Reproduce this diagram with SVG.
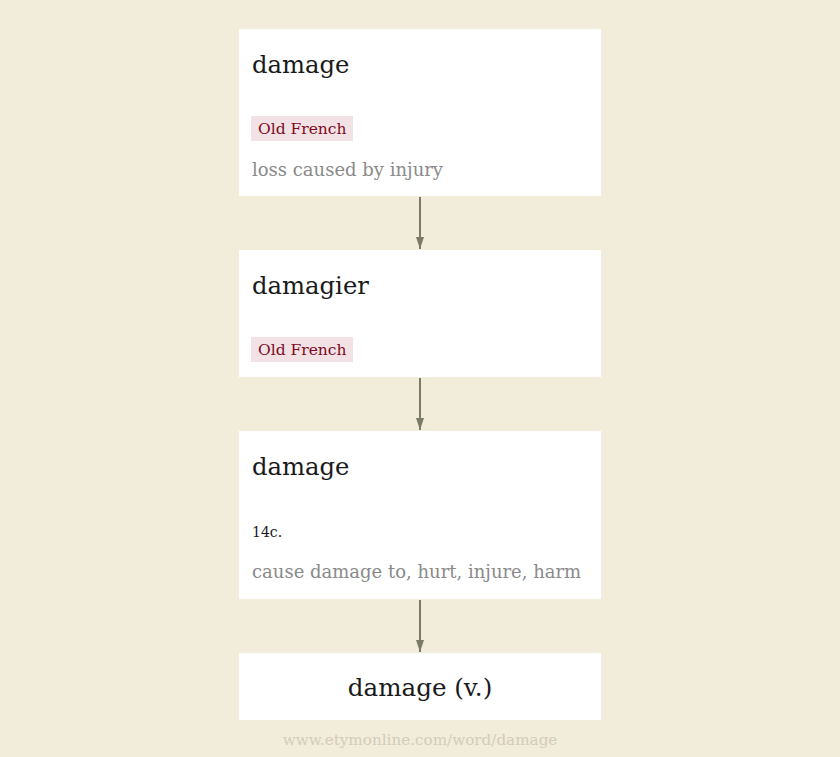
<svg xmlns="http://www.w3.org/2000/svg" width="840" height="757" viewBox="0 0 840 757">
<style>
.box{fill:#ffffff}
.title{font-family:"DejaVu Serif","Liberation Serif",serif;font-size:24.3px;fill:#1a1a1a}
.big{font-size:24.6px}
.tag{fill:#f2e2e5}
.tagt{font-family:"DejaVu Serif","Liberation Serif",serif;font-size:15.5px;fill:#7d0a22}
.gloss{font-family:"DejaVu Serif","Liberation Serif",serif;font-size:18px;fill:#8a8a8a}
.date{font-family:"DejaVu Serif","Liberation Serif",serif;font-size:14px;fill:#1a1a1a}
.foot{font-family:"DejaVu Serif","Liberation Serif",serif;font-size:15.2px;fill:#d3ccba}
.conn{stroke:#7b7a68;stroke-width:2;fill:none}
</style>
<defs>
<marker id="ah" viewBox="0 0 12 8" refX="12" refY="4" markerWidth="12" markerHeight="8" markerUnits="userSpaceOnUse" orient="auto">
<path d="M0,0 L12,4 L0,8 z" fill="#7b7a68"/>
</marker>
</defs>
<rect width="840" height="757" fill="#f2ecda"/>
<g id="connectors">
<line class="conn" x1="420" y1="197" x2="420" y2="249" marker-end="url(#ah)"/>
<line class="conn" x1="420" y1="378" x2="420" y2="430" marker-end="url(#ah)"/>
<line class="conn" x1="420" y1="600" x2="420" y2="652" marker-end="url(#ah)"/>
</g>
<g id="node-damage-of">
<rect class="box" x="239" y="29" width="362" height="167"/>
<text class="title" x="252" y="73">damage</text>
<rect class="tag" x="251" y="116" width="102" height="25"/>
<text class="tagt" x="258" y="134">Old French</text>
<text class="gloss" x="252" y="176">loss caused by injury</text>
</g>
<g id="node-damagier">
<rect class="box" x="239" y="250" width="362" height="127"/>
<text class="title" x="252" y="294">damagier</text>
<rect class="tag" x="251" y="337" width="102" height="25"/>
<text class="tagt" x="258" y="355">Old French</text>
</g>
<g id="node-damage-14c">
<rect class="box" x="239" y="431" width="362" height="168"/>
<text class="title" x="252" y="475">damage</text>
<text class="date" x="252" y="537">14c.</text>
<text class="gloss" x="252" y="578">cause damage to, hurt, injure, harm</text>
</g>
<g id="node-damage-v">
<rect class="box" x="239" y="653" width="362" height="67"/>
<text class="title big" x="420" y="696" text-anchor="middle">damage (v.)</text>
</g>
<text class="foot" x="420" y="745" text-anchor="middle">www.etymonline.com/word/damage</text>
</svg>
